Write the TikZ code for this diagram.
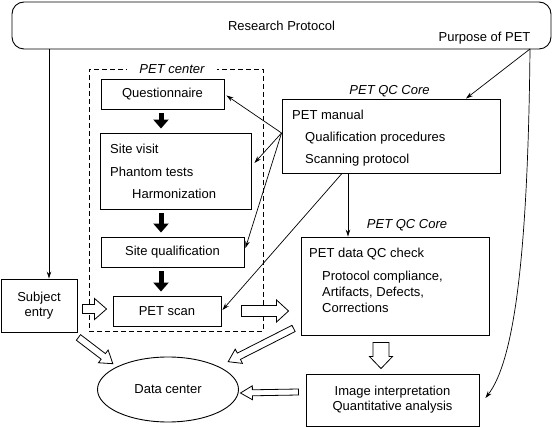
\documentclass[tikz,border=0pt]{standalone}
\usepackage{fontspec}
\setmainfont{Liberation Sans}
\usetikzlibrary{arrows.meta,calc,shapes.geometric}

% hollow block arrow: shaft half width, head half width, from, to
\newcommand{\hollowarrow}[4]{%
    \coordinate (ha) at #3;
    \coordinate (hb) at #4;
    \coordinate (hm) at ($(hb)!12pt!(ha)$);
    \draw[hollow] ($(ha)!#1!90:(hb)$) -- ($(hm)!#1!-90:(ha)$) -- ($(hm)!#2!-90:(ha)$)
        -- (hb) -- ($(hm)!#2!90:(ha)$) -- ($(hm)!#1!90:(ha)$) -- ($(ha)!#1!-90:(hb)$) -- cycle;}

\begin{document}
\begin{tikzpicture}[x=1pt,y=-1pt,font=\fontsize{13}{15}\selectfont]
    \tikzstyle{box}=[draw=black,line width=0.9pt,inner sep=0pt,align=center]
    \tikzstyle{txt}=[inner sep=0pt,anchor=base west]
    \tikzstyle{label}=[inner sep=0pt,font=\fontsize{13}{15}\selectfont\itshape]
    \tikzstyle{thin}=[line width=0.7pt,-{Stealth[length=7pt,width=4.5pt]}]
    \tikzstyle{thick arrow}=[line width=5pt,-{Triangle[length=9pt,width=15pt]},shorten <=4pt,shorten >=4pt]
    \tikzstyle{hollow}=[draw=black,line width=0.8pt,fill=white,line join=miter]
    \useasboundingbox (0,0) rectangle (555,427);

    % boxes
    \node[box,rounded corners=12pt,minimum width=539pt,minimum height=47pt] (rp) at (281.5,25.5) {Research Protocol};
    \node[inner sep=0pt] (purpose) at (484.5,38) {Purpose of PET};
    \node[box,dash pattern=on 5pt off 3pt,minimum width=174pt,minimum height=262pt] (pcenter) at (176,200) {};
    \node[label,fill=white,inner xsep=12pt,inner ysep=2pt] (pcl) at (172,69) {PET center};
    \node[box,minimum width=123pt,minimum height=30pt] (quest) at (162.5,94) {Questionnaire};
    \node[box,minimum width=151pt,minimum height=76pt] (site) at (175.5,171) {};
    \node[box,minimum width=143pt,minimum height=30pt] (qual) at (172.5,252) {Site qualification};
    \node[box,minimum width=108pt,minimum height=30pt] (pscan) at (167,311) {PET scan};
    \node[box,minimum width=76pt,minimum height=53pt] (subj) at (39,305.5) {Subject\\entry};
    \node[box,minimum width=218pt,minimum height=74pt] (qc) at (391,136) {};
    \node[box,minimum width=188pt,minimum height=98pt] (dqc) at (395,286) {};
    \node[box,minimum width=173pt,minimum height=52pt] (img) at (392.5,400) {Image interpretation\\Quantitative analysis};
    \node[box,ellipse,minimum width=141pt,minimum height=65pt] (dc) at (168,389.5) {Data center};

    % texts in the boxes
    \node[label] (qcl-1) at (389.5,91) {PET QC Core};
    \node[label] (qcl-2) at (407,225) {PET QC Core};
    \foreach \n/\x/\y/\t in {1/110/154/Site visit, 2/110/177/Phantom tests, 3/132/199/Harmonization}
        \node[txt] (site-\n) at (\x,\y) {\t};
    \foreach \n/\x/\y/\t in {1/292/120/PET manual, 2/305/142/Qualification procedures, 3/305/164/Scanning protocol}
        \node[txt] (qc-\n) at (\x,\y) {\t};
    \foreach \n/\x/\y/\t in {1/309/258/PET data QC check, 2/322/281/{Protocol compliance,}, 3/322/297/{Artifacts, Defects,}, 4/322/313/Corrections}
        \node[txt] (dqc-\n) at (\x,\y) {\t};

    % thin arrows
    \coordinate (rpl) at (49,49);
    \coordinate (rpr) at (530,49);
    \coordinate (qcw) at ([yshift=3pt]qc.west);
    \draw[thin] (rpl) -- (rpl |- subj.north);
    \draw[thin] (rpr) -- ([xshift=75pt]qc.north);
    \draw[thin] (rpr) .. controls (528,250) and (515,360) .. ($(img.east)+(6,-2)$);
    \draw[thin] (qcw) -- ($(quest.east)+(2,1.5)$);
    \draw[thin] (qcw) -- ($(site.east)+(3,-8)$);
    \draw[thin] (qcw) -- ($(qual.east)+(1,-4)$);
    \draw[thin] ([xshift=-49pt]qc.south) -- ($(pscan.east)+(1,-1)$);
    \coordinate (qcs) at ([xshift=-43pt]qc.south);
    \draw[thin] (qcs) -- (qcs |- dqc.north);

    % thick arrows
    \coordinate (col) at (161,0);
    \foreach \from/\to in {quest/site, site/qual, qual/pscan}
        \draw[thick arrow] (col |- \from.south) -- (col |- \to.north);

    % hollow arrows
    \hollowarrow{4.5pt}{10.5pt}{($(subj.east)+(5,3.5)$)}{($(pscan.west)+(-6,-2)$)}
    \hollowarrow{5.5pt}{11pt}{($(pscan.east)+(20,0)$)}{($(dqc.west)+(-12,25)$)}
    \hollowarrow{3.5pt}{8pt}{($(subj.south east)+(1,5)$)}{($(dc.north west)+(-5,-2.5)$)}
    \hollowarrow{3.5pt}{8pt}{($(dqc.south west)+(-7,-7)$)}{($(dc.north east)+(10,-4.5)$)}
    \hollowarrow{8pt}{11.5pt}{($(dqc.south)+(-14,7)$)}{($(img.north)+(-11.5,-5)$)}
    \hollowarrow{3pt}{7pt}{($(img.west)+(-7,-8)$)}{($(dc.east)+(1.5,3.5)$)}
\end{tikzpicture}
\end{document}
